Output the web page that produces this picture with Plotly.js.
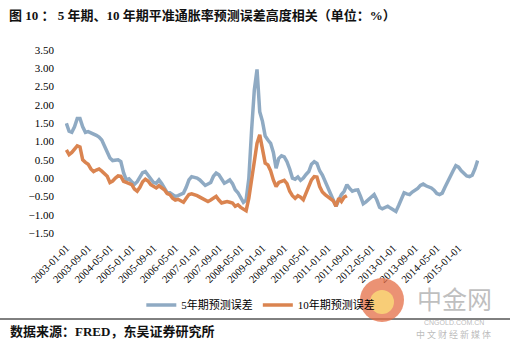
<!DOCTYPE html>
<html>
<head>
<meta charset="utf-8">
<script src="https://cdn.plot.ly/plotly-3.0.1.min.js"></script>
<style>html,body{margin:0;padding:0;background:#fff;}#chart{width:515px;height:355px;}</style>
</head>
<body>
<div id="chart"></div>
<script>
// Monthly categories 2003-01 .. 2015-08
var startYear = 2003, monthCount = 152;
var months = [];
for (var k = 0; k < monthCount; k++) {
  var yy = startYear + Math.floor(k / 12), mm = (k % 12) + 1;
  months.push(yy + '-' + (mm < 10 ? '0' : '') + mm + '-01');
}

var tickLabels = ['2003-01-01','2003-09-01','2004-05-01','2005-01-01','2005-09-01','2006-05-01',
  '2007-01-01','2007-09-01','2008-05-01','2009-01-01','2009-09-01','2010-05-01','2011-01-01',
  '2011-09-01','2012-05-01','2013-01-01','2013-09-01','2014-05-01','2015-01-01'];

var err5y = [
  1.50,1.28,1.25,1.40,1.63,1.63,1.40,1.25,1.27,1.24,1.22,1.17,
  1.12,1.04,0.88,0.74,0.55,0.48,0.49,0.50,0.45,0.15,-0.05,-0.02,
  -0.10,-0.17,-0.10,0.05,0.15,0.18,0.08,-0.05,-0.12,-0.14,-0.05,-0.15,
  -0.27,-0.40,-0.40,-0.45,-0.50,-0.48,-0.44,-0.41,-0.25,-0.05,0.04,0.03,
  0.00,-0.05,-0.12,-0.20,-0.16,-0.12,0.05,0.14,0.09,-0.03,-0.14,-0.10,
  -0.05,-0.15,-0.32,-0.40,-0.55,-0.66,-0.60,0.00,1.30,2.40,2.97,1.81,
  1.55,1.15,1.04,0.95,0.70,0.27,0.54,0.61,0.58,0.45,0.25,0.00,
  -0.03,0.03,-0.06,0.00,0.10,0.18,0.38,0.45,0.40,0.20,0.08,-0.10,
  -0.27,-0.42,-0.60,-0.77,-0.60,-0.45,-0.36,-0.18,-0.28,-0.36,-0.33,-0.32,
  -0.50,-0.70,-0.65,-0.59,-0.50,-0.45,-0.60,-0.80,-0.84,-0.80,-0.77,-0.82,
  -0.88,-0.91,-0.75,-0.55,-0.40,-0.43,-0.45,-0.38,-0.34,-0.28,-0.20,-0.16,
  -0.21,-0.24,-0.27,-0.33,-0.42,-0.45,-0.41,-0.25,-0.08,0.05,0.20,0.34,
  0.30,0.20,0.14,0.06,0.04,0.08,0.25,0.48
];

var err10y = [
  0.77,0.64,0.70,0.78,0.88,0.85,0.50,0.43,0.38,0.25,0.18,0.22,
  0.25,0.19,0.12,0.05,-0.12,-0.08,0.00,0.06,0.05,-0.09,-0.12,-0.14,
  -0.18,-0.30,-0.36,-0.25,-0.10,-0.03,-0.08,-0.18,-0.24,-0.27,-0.21,-0.27,
  -0.32,-0.42,-0.45,-0.55,-0.60,-0.58,-0.63,-0.66,-0.55,-0.45,-0.43,-0.45,
  -0.48,-0.52,-0.56,-0.60,-0.64,-0.60,-0.55,-0.50,-0.60,-0.68,-0.66,-0.64,
  -0.66,-0.68,-0.77,-0.73,-0.80,-0.86,-0.89,-0.55,0.00,0.55,0.95,1.18,
  0.75,0.41,0.36,0.20,-0.05,-0.23,-0.12,-0.09,-0.06,-0.15,-0.36,-0.48,
  -0.55,-0.48,-0.52,-0.59,-0.40,-0.23,-0.05,0.04,0.03,-0.23,-0.38,-0.45,
  -0.50,-0.55,-0.62,-0.77,-0.55,-0.64,-0.52,-0.48
];

var yMin = -1.5, yMax = 3.5;
var boundaryTicks = [];
for (var b = -0.5; b <= monthCount - 0.5; b += 8) boundaryTicks.push(b);

var traces = [
  {x: months, y: err5y, type: 'scatter', mode: 'lines', name: '5年期预测误差',
   line: {color: '#8FAAC3', width: 3.5}},
  {x: months, y: err10y, type: 'scatter', mode: 'lines', name: '10年期预测误差',
   line: {color: '#DA8450', width: 3.5}}
];

var serif = '"Liberation Serif", "Times New Roman", "Noto Sans CJK SC", serif';
var zeroPos = (0 - yMin) / (yMax - yMin);

var layout = {
  width: 515, height: 355,
  margin: {l: 65, r: 36, t: 50, b: 122},
  paper_bgcolor: '#fff', plot_bgcolor: '#fff',
  showlegend: true,
  title: {text: '<b>图 10 ： 5 年期、10 年期平准通胀率预测误差高度相关（单位：%）</b>',
    x: 9/515, xanchor: 'left', y: 1 - 15/355, yanchor: 'middle',
    xref: 'container', yref: 'container',
    font: {family: serif, size: 13, color: '#111'}},
  xaxis: {type: 'category', range: [-0.5, monthCount - 0.5],
    tickmode: 'array', tickvals: tickLabels, ticktext: tickLabels,
    tickangle: -45, ticks: '', showline: false, showgrid: false, zeroline: false,
    ticklabelstandoff: 6,
    tickfont: {family: serif, size: 10.5, color: '#000'}},
  xaxis2: {overlaying: 'x', type: 'linear', range: [-0.5, monthCount - 0.5],
    anchor: 'free', position: zeroPos, side: 'bottom',
    showline: true, linecolor: '#BFBFBF', linewidth: 1,
    ticks: 'outside', ticklen: 3, tickcolor: '#BFBFBF', tickwidth: 1,
    tickmode: 'array', tickvals: boundaryTicks, showticklabels: false,
    showgrid: false, zeroline: false},
  yaxis: {range: [yMin, yMax], dtick: 0.5, tick0: 0, tickformat: '.2f',
    showgrid: false, zeroline: false, showline: false, ticks: '',
    ticklabelstandoff: 10,
    tickfont: {family: serif, size: 11, color: '#000'}},
  legend: {orientation: 'h', x: 0.473, xanchor: 'center', y: -0.393, yanchor: 'middle',
    font: {family: serif, size: 11, color: '#000'}, itemwidth: 30, bgcolor: 'rgba(0,0,0,0)'},
  shapes: [
    {type: 'line', xref: 'paper', yref: 'paper', x0: -65/414, x1: 445/414,
     y0: -86/183, y1: -86/183, line: {color: '#000', width: 1}},
    {type: 'circle', xref: 'paper', yref: 'paper', layer: 'above',
     x0: (360-65)/414, x1: (404-65)/414, y0: (233-322)/183, y1: (233-278)/183,
     fillcolor: 'rgba(228,110,70,0.75)', line: {width: 0}},
    {type: 'circle', xref: 'paper', yref: 'paper', layer: 'above',
     x0: (370-65)/414, x1: (394-65)/414, y0: (233-314)/183, y1: (233-290)/183,
     fillcolor: 'rgba(250,215,120,0.85)', line: {width: 0}}
  ],
  annotations: [
    {text: '<b>数据来源：FRED，东吴证券研究所</b>', xref: 'paper', yref: 'paper',
     x: -57/414, xanchor: 'left', y: (233-331)/183, yanchor: 'middle', showarrow: false,
     font: {family: serif, size: 13, color: '#111'}},
    {text: '中金网', xref: 'paper', yref: 'paper', x: (454-65)/414, xanchor: 'center',
     y: (233-298)/183, yanchor: 'middle', showarrow: false,
     font: {family: '"Noto Sans CJK SC", sans-serif', size: 25, color: 'rgba(170,170,170,0.75)'}},
    {text: 'CNGOLD.COM.CN', xref: 'paper', yref: 'paper', x: (454-65)/414, xanchor: 'center',
     y: (233-322)/183, yanchor: 'middle', showarrow: false,
     font: {family: 'Arial, "Liberation Sans", sans-serif', size: 7, color: 'rgba(170,170,170,0.8)'}},
    {text: '中 文 财 经 新 媒 体', xref: 'paper', yref: 'paper', x: (453-65)/414, xanchor: 'center',
     y: (233-334)/183, yanchor: 'middle', showarrow: false,
     font: {family: '"Noto Sans CJK SC", sans-serif', size: 9, color: 'rgba(170,170,170,0.8)'}}
  ]
};

Plotly.newPlot('chart', traces, layout, {displayModeBar: false, staticPlot: true});
</script>
</body>
</html>
